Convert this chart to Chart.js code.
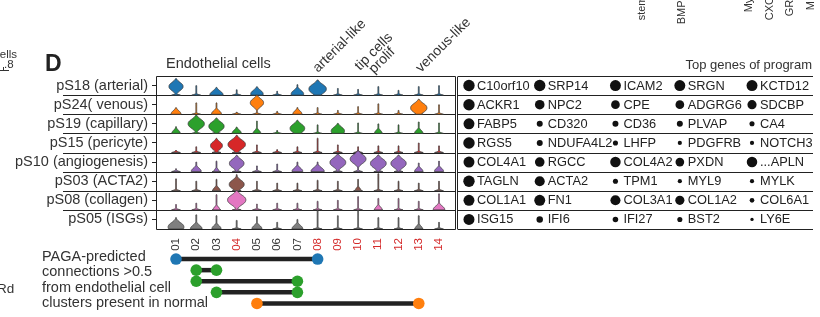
<!DOCTYPE html>
<html>
<head>
<meta charset="utf-8">
<script src="https://cdn.jsdelivr.net/npm/chart.js@4.4.1/dist/chart.umd.min.js"></script>
<style>
  html, body { margin: 0; padding: 0; background: #fff; }
  #wrap { position: relative; width: 820px; height: 317px; overflow: hidden;
          font-family: "Liberation Sans", Arial, Helvetica, sans-serif; color: #333; }
  #wrap canvas { position: absolute; left: 0; top: 0; }
  .txt { position: absolute; white-space: nowrap; line-height: 1; }
  .rot45 { transform: rotate(-45deg); transform-origin: 0 11.85px; font-size: 14px; }
  .rot90 { transform: rotate(-90deg); transform-origin: 0 9.31px; font-size: 11px; }
</style>
</head>
<body>
<div id="wrap">
  <canvas id="violins" width="820" height="317"></canvas>
  <canvas id="genes" width="820" height="317"></canvas>
  <canvas id="paga" width="820" height="317"></canvas>

  <div class="txt" style="left:-6px; top:48.6px; font-size:11.5px;">cells</div>
  <div class="txt" style="left:4px; top:58.6px; font-size:11.5px;">.8</div>
  <div style="position:absolute; left:0; top:70px; width:9px; height:0; border-top:1px solid #333;"></div>
  <div style="position:absolute; left:3px; top:67px; width:0; height:3px; border-left:1px solid #333;"></div>
  <div class="txt" style="left:-3px; top:281.6px; font-size:13.5px;">Rd</div>

  <div class="txt" style="left:45px; top:52.2px; font-size:23px; font-weight:bold; color:#222;">D</div>
  <div class="txt" style="left:166px; top:56px; font-size:14.5px;">Endothelial cells</div>
  <div class="txt" style="right:8px; top:58.3px; font-size:13px;">Top genes of program</div>

  <div class="txt rot45" style="left:318px; top:61.2px;">arterial-like</div>
  <div class="txt rot45" style="left:360px; top:59.2px;">tip cells</div>
  <div class="txt rot45" style="left:374px; top:62.2px;">prolif</div>
  <div class="txt rot45" style="left:421px; top:61.2px;">venous-like</div>

  <div class="txt rot90" style="left:645px; top:10.7px;">stem</div>
  <div class="txt rot90" style="left:685px; top:14.7px;">BMP</div>
  <div class="txt rot90" style="left:752px; top:2.7px;">My</div>
  <div class="txt rot90" style="left:773px; top:10.7px;">CXC</div>
  <div class="txt rot90" style="left:793px; top:6.7px;">GR</div>
  <div class="txt rot90" style="left:814px; top:0.7px;">M</div>

  <div class="txt" style="left:42px; top:249px; font-size:14.5px; line-height:15.3px;">PAGA-predicted<br>connections &gt;0.5<br>from endothelial cell<br>clusters present in normal</div>
</div>

<script>
// ---- data ----
var rows = ['pS18 (arterial)', 'pS24( venous)', 'pS19 (capillary)', 'pS15 (pericyte)',
            'pS10 (angiogenesis)', 'pS03 (ACTA2)', 'pS08 (collagen)', 'pS05 (ISGs)'];
var clusters = ['01', '02', '03', '04', '05', '06', '07', '08', '09', '10', '11', '12', '13', '14'];
var redClusters = ['04', '08', '09', '10', '11', '12', '13', '14'];

// violin body width (1 = widest), body centre and top of the tail, as fractions of a row
var violinPeak = [
  [0.85, 0, 0.8, 0, 0.75, 0, 0.75, 1.05, 0, 0, 0, 0, 0, 0],
  [0.6, 0, 0.6, 0, 0.8, 0, 0.55, 0, 0, 0, 0, 0, 0.98, 0],
  [0.5, 0.98, 0.92, 0.55, 0.45, 0, 0.88, 0, 0.8, 0, 0.45, 0, 0.5, 0],
  [0, 0, 0.72, 1.05, 0, 0, 0, 0, 0, 0, 0, 0, 0, 0],
  [0, 0.6, 0.3, 0.88, 0, 0, 0.65, 0.8, 0.95, 0.95, 0.95, 0.92, 0.5, 0.55],
  [0, 0, 0.45, 0.9, 0, 0, 0, 0, 0, 0.35, 0, 0, 0, 0],
  [0, 0, 0.4, 1.1, 0, 0, 0, 0, 0, 0, 0.45, 0, 0, 0.7],
  [0.95, 0.7, 0.55, 0, 0.6, 0, 0.65, 0, 0, 0, 0, 0, 0.45, 0]
];
var violinMid = [
  [0.45, 0, 0, 0, 0.05, 0, 0.05, 0.32, 0, 0, 0, 0, 0, 0],
  [0, 0, 0, 0, 0.6, 0, 0, 0, 0, 0, 0, 0, 0.33, 0],
  [0, 0.5, 0.37, 0, 0, 0, 0.26, 0, 0.12, 0, 0, 0, 0, 0],
  [0, 0, 0.36, 0.42, 0, 0, 0, 0, 0, 0, 0, 0, 0, 0],
  [0, 0, 0, 0.43, 0, 0, 0, 0, 0.48, 0.66, 0.43, 0.43, 0, 0],
  [0, 0, 0, 0.33, 0, 0, 0, 0, 0, 0, 0, 0, 0, 0],
  [0, 0, 0, 0.52, 0, 0, 0, 0, 0, 0, 0, 0, 0, 0],
  [0.1, 0, 0, 0, 0, 0, 0, 0, 0, 0, 0, 0, 0, 0]
];
var violinTail = [
  [0.85, 0.5, 0.4, 0.28, 0.2, 0.2, 0.55, 0.6, 0.35, 0.3, 0.45, 0.25, 0.45, 0.5],
  [0.3, 0.6, 0.6, 0.1, 0.9, 0.15, 0.35, 0.35, 0.2, 0.4, 0.55, 0.2, 0.75, 0.5],
  [0.35, 0.85, 0.8, 0.3, 0.65, 0.15, 0.5, 0.45, 0.45, 0.55, 0.5, 0.45, 0.6, 0.55],
  [0.1, 0.3, 0.6, 0.9, 0.4, 0.15, 0.3, 0.75, 0.4, 0.3, 0.35, 0.35, 0.5, 0.35],
  [0.15, 0.5, 0.55, 0.8, 0.3, 0.4, 0.5, 0.5, 0.8, 1.0, 0.8, 0.75, 0.45, 0.55],
  [0.63, 0.5, 0.6, 0.85, 0.5, 0.4, 0.4, 0.55, 0.5, 0.6, 0.9, 0.5, 0.4, 0.5],
  [0.28, 0.35, 0.8, 1.0, 0.3, 0.35, 0.35, 0.45, 0.5, 0.7, 0.6, 0.6, 0.45, 0.85],
  [0.6, 0.75, 0.7, 0.45, 0.65, 0.35, 0.5, 0.98, 0.7, 0.98, 0.6, 0.6, 0.7, 0.35]
];

var geneNames = [
  ['C10orf10', 'SRP14', 'ICAM2', 'SRGN', 'KCTD12'],
  ['ACKR1', 'NPC2', 'CPE', 'ADGRG6', 'SDCBP'],
  ['FABP5', 'CD320', 'CD36', 'PLVAP', 'CA4'],
  ['RGS5', 'NDUFA4L2', 'LHFP', 'PDGFRB', 'NOTCH3'],
  ['COL4A1', 'RGCC', 'COL4A2', 'PXDN', '...APLN'],
  ['TAGLN', 'ACTA2', 'TPM1', 'MYL9', 'MYLK'],
  ['COL1A1', 'FN1', 'COL3A1', 'COL1A2', 'COL6A1'],
  ['ISG15', 'IFI6', 'IFI27', 'BST2', 'LY6E']
];
var geneWeight = [
  [1, 1, 0.95, 0.95, 0.95],
  [1, 0.8, 0.7, 0.7, 0.75],
  [0.95, 0.4, 0.4, 0.4, 0.3],
  [1, 0.4, 0.3, 0.2, 0.2],
  [0.95, 0.8, 0.9, 0.7, 0.9],
  [1, 0.85, 0.3, 0.2, 0.2],
  [0.95, 0.95, 0.85, 0.75, 0.25],
  [0.95, 0.45, 0.35, 0.3, 0.1]
];

// PAGA connections (cluster numbers) and the program they belong to
var pagaFrom = [1, 2, 2, 3, 5];
var pagaTo = [8, 3, 7, 7, 13];
var pagaProgram = [0, 2, 2, 2, 1];

// ---- styles ----
var rowColors = ['#1f77b4', '#ff7f0e', '#2ca02c', '#d62728', '#9467bd', '#8c564b', '#e377c2', '#7f7f7f'];
var geneSlot = [0, 1, 2.07, 2.98, 4];
var FONT = '"Liberation Sans", Arial, Helvetica, sans-serif';

Chart.defaults.font.family = FONT;
Chart.defaults.color = '#333';

function drawViolin(ctx, x, y, row, k) {
  var peak = violinPeak[row][k], mid = violinMid[row][k], tail = violinTail[row][k];
  var cx = k + 1;
  var spread = 0.09 + 0.14 * peak;
  var top = Math.max(tail, peak > 0 ? mid + 2.0 * spread : 0, 0.12);
  function halfWidth(t) {
    var w = t <= tail ? 0.022 : 0;
    if (t < 0.12) w = Math.max(w, 0.22 * Math.pow(1 - t / 0.12, 2));
    if (peak > 0) {
      var u = Math.abs(t - mid) / spread;
      w = Math.max(w, 0.41 * peak * Math.exp(-0.5 * Math.pow(u, 2.4)));
    }
    return w;
  }
  var n = 60, right = [], left = [];
  for (var i = 0; i <= n; i++) {
    var t = top * i / n;
    var w = i === n ? 0 : halfWidth(t);
    var py = y.getPixelForValue(row + 0.5 - t);
    right.push([x.getPixelForValue(cx + w), py]);
    left.push([x.getPixelForValue(cx - w), py]);
  }
  ctx.beginPath();
  ctx.moveTo(right[0][0], right[0][1]);
  for (i = 1; i < right.length; i++) ctx.lineTo(right[i][0], right[i][1]);
  for (i = left.length - 1; i >= 0; i--) ctx.lineTo(left[i][0], left[i][1]);
  ctx.closePath();
  ctx.fillStyle = rowColors[row];
  ctx.fill();
  ctx.stroke();
}

var violinPlugin = {
  id: 'violins',
  afterDatasetsDraw: function(chart) {
    var ctx = chart.ctx, a = chart.chartArea, x = chart.scales.x, y = chart.scales.y;
    ctx.save();
    ctx.strokeStyle = '#222';
    ctx.lineWidth = 1;
    for (var i = 1; i < rows.length; i++) {
      var py = Math.round(y.getPixelForValue(i - 0.5)) + 0.5;
      ctx.beginPath(); ctx.moveTo(63, py); ctx.lineTo(a.right, py); ctx.stroke();
    }
    ctx.strokeStyle = '#3a3a3a';
    ctx.lineWidth = 0.8;
    ctx.lineJoin = 'round';
    for (var r = 0; r < rows.length; r++) {
      for (var k = 0; k < clusters.length; k++) drawViolin(ctx, x, y, r, k);
    }
    ctx.strokeStyle = '#222';
    ctx.lineWidth = 1;
    ctx.strokeRect(Math.round(a.left) - 0.5, Math.round(a.top) + 0.5, Math.round(a.width), Math.round(a.height));
    ctx.restore();
  }
};

new Chart(document.getElementById('violins'), {
  type: 'scatter',
  data: { datasets: [{ data: [] }] },
  options: {
    responsive: false,
    animation: false,
    layout: { padding: { left: 0, top: 76, right: 364, bottom: 58 } },
    plugins: { legend: { display: false }, tooltip: { enabled: false } },
    scales: {
      x: {
        type: 'linear', min: 0.06, max: 14.84,
        afterBuildTicks: function(s) { s.ticks = clusters.map(function(c, i) { return { value: i + 1 }; }); },
        afterFit: function(s) { s.height = 30; },
        grid: { display: false },
        border: { display: false },
        ticks: {
          autoSkip: false, minRotation: 90, maxRotation: 90, padding: 1,
          font: { size: 11.5 },
          callback: function(v) { return clusters[Math.round(v) - 1]; },
          color: function(c) { return redClusters.indexOf(clusters[c.index]) >= 0 ? '#d42a2a' : '#333'; }
        }
      },
      y: {
        type: 'category', labels: rows, offset: true,
        afterFit: function(s) { s.width = 157; },
        grid: { display: true, drawOnChartArea: false, drawTicks: true, tickLength: 5, color: '#222' },
        border: { display: false },
        ticks: { autoSkip: false, padding: 4, font: { size: 14.5 }, color: '#333' }
      }
    }
  },
  plugins: [violinPlugin]
});

// ---- top genes of each program ----
var genePoints = [], geneLabels = [];
rows.forEach(function(r, i) {
  geneNames[i].forEach(function(g, j) {
    genePoints.push({ x: geneSlot[j], y: r, r: 1.2 + 4.5 * geneWeight[i][j] });
    geneLabels.push(g);
  });
});

var genePlugin = {
  id: 'geneText',
  afterDatasetsDraw: function(chart) {
    var ctx = chart.ctx, a = chart.chartArea, y = chart.scales.y;
    ctx.save();
    ctx.strokeStyle = '#222';
    ctx.lineWidth = 1;
    for (var i = 0; i <= rows.length; i++) {
      var py = Math.round(y.getPixelForValue(i - 0.5)) + 0.5;
      ctx.beginPath(); ctx.moveTo(a.left - 1, py); ctx.lineTo(a.right, py); ctx.stroke();
    }
    ctx.beginPath();
    ctx.moveTo(a.left - 1.5, Math.round(a.top) + 0.5);
    ctx.lineTo(a.left - 1.5, Math.round(a.bottom) + 0.5);
    ctx.stroke();
    ctx.fillStyle = '#222';
    ctx.font = '12.8px ' + FONT;
    ctx.textBaseline = 'middle';
    chart.getDatasetMeta(0).data.forEach(function(el, k) {
      ctx.fillText(geneLabels[k], el.x + 8, el.y + 0.5);
    });
    ctx.restore();
  }
};

new Chart(document.getElementById('genes'), {
  type: 'bubble',
  data: { datasets: [{ data: genePoints, backgroundColor: '#111', borderWidth: 0, hoverRadius: 0 }] },
  options: {
    responsive: false,
    animation: false,
    layout: { padding: { left: 459, right: 7, top: 76, bottom: 88 } },
    plugins: { legend: { display: false }, tooltip: { enabled: false } },
    scales: {
      x: { type: 'linear', min: -0.141, max: 4.862, display: false },
      y: { type: 'category', labels: rows, offset: true, display: false }
    }
  },
  plugins: [genePlugin]
});

// ---- PAGA connections ----
var pagaSets = pagaFrom.map(function(f, i) {
  return {
    data: [{ x: f, y: i }, { x: pagaTo[i], y: i }],
    showLine: true,
    borderColor: '#222',
    borderWidth: 4.5,
    pointRadius: 5.8,
    pointBorderWidth: 0,
    pointBackgroundColor: rowColors[pagaProgram[i]],
    clip: false
  };
});

new Chart(document.getElementById('paga'), {
  type: 'scatter',
  data: { datasets: pagaSets },
  options: {
    responsive: false,
    animation: false,
    layout: { padding: { left: 157, right: 364, top: 253.5, bottom: 8 } },
    plugins: { legend: { display: false }, tooltip: { enabled: false } },
    scales: {
      x: { type: 'linear', min: 0.06, max: 14.84, display: false },
      y: { type: 'linear', min: -0.5, max: 4.5, reverse: true, display: false }
    }
  }
});
</script>
</body>
</html>
